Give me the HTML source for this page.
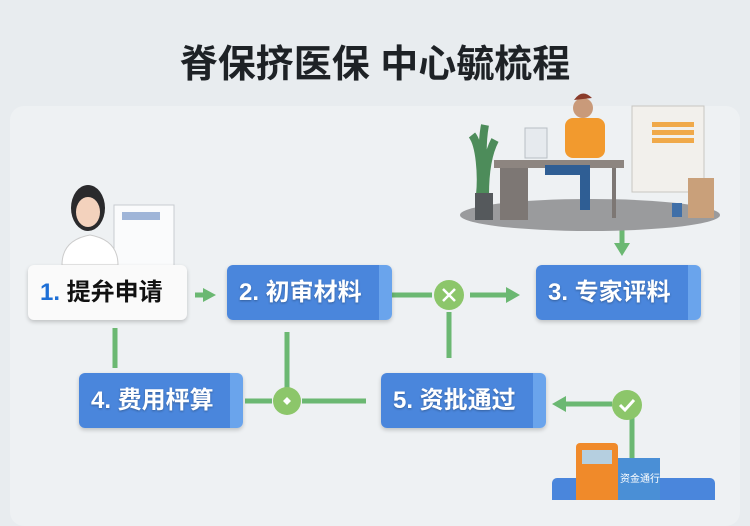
<!DOCTYPE html>
<html><head><meta charset="utf-8"><style>
body{margin:0;width:750px;height:500px;overflow:hidden;background:#e8ecef;font-family:"Liberation Sans","Noto Sans CJK SC",sans-serif;position:relative}
.panel{position:absolute;left:10px;top:106px;width:730px;height:420px;background:#eef1f3;border-radius:14px}
h1{position:absolute;left:0;width:750px;top:33px;margin:0;text-align:center;font-size:38px;font-weight:bold;color:#1e2226;letter-spacing:0px}
.b{position:absolute;height:55px;border-radius:6px;background:linear-gradient(90deg,#4a86dc 92%,#6aa4ec 92%);color:#fff;font-size:24px;font-weight:bold;line-height:55px;box-sizing:border-box;padding-left:12px;box-shadow:0 2px 4px rgba(0,0,0,.2);text-shadow:0 1px 2px rgba(0,0,0,.3)}
svg{position:absolute;left:0;top:0}
</style></head><body>
<div class="panel"></div>
<h1>脊保挤医保 中心毓梳程</h1>
<svg width="750" height="500">
<g stroke="#6bb872" stroke-width="5" fill="none">
<line x1="115" y1="328" x2="115" y2="368"/>
<line x1="287" y1="332" x2="287" y2="388"/>
<line x1="245" y1="401" x2="272" y2="401"/>
<line x1="302" y1="401" x2="366" y2="401"/>
<line x1="392" y1="295" x2="432" y2="295"/>
<line x1="470" y1="295" x2="508" y2="295"/>
<line x1="449" y1="312" x2="449" y2="358"/>
<line x1="565" y1="404" x2="612" y2="404"/>
<line x1="632" y1="418" x2="632" y2="475"/>
<line x1="622" y1="218" x2="622" y2="245"/>
<line x1="195" y1="295" x2="205" y2="295"/>
</g>
<g fill="#6bb872">
<polygon points="203,288 216,295 203,302"/>
<polygon points="506,287 520,295 506,303"/>
<polygon points="566,396 552,404 566,412"/>
<polygon points="614,243 630,243 622,256"/>
<circle cx="449" cy="295" r="15" fill="#8cc66a"/>
<circle cx="287" cy="401" r="14" fill="#8cc66a"/>
<circle cx="627" cy="405" r="15" fill="#8cc66a"/>
</g>
<path d="M443 289l12 12M455 289l-12 12" stroke="#fff" stroke-width="2.5"/>
<path d="M287 397l4 4-4 4-4-4z" fill="#fff"/>
<path d="M620 405l5 5 9-10" stroke="#fff" stroke-width="3" fill="none"/>
<ellipse cx="590" cy="215" rx="130" ry="16" fill="#9a9b9d"/>
<rect x="632" y="106" width="72" height="86" fill="#f2f0ec" stroke="#c8c6c2"/>
<rect x="652" y="122" width="42" height="5" fill="#f0a94a"/>
<rect x="652" y="130" width="42" height="5" fill="#f0a94a"/>
<rect x="652" y="138" width="42" height="5" fill="#f0a94a"/>
<rect x="494" y="160" width="130" height="8" fill="#8d8580"/>
<rect x="500" y="168" width="28" height="52" fill="#7d7774"/>
<rect x="612" y="168" width="4" height="50" fill="#7d7774"/>
<path d="M472 135c8 10 10 40 8 60M485 125c-4 20-2 45 0 70M495 140c-8 15-10 35-10 55" stroke="#4d8c5a" stroke-width="8" fill="none"/>
<rect x="475" y="193" width="18" height="27" fill="#55595c"/>
<rect x="525" y="128" width="22" height="30" fill="#e6eaee" stroke="#b8bec4"/>
<circle cx="583" cy="108" r="10" fill="#c99a7a"/>
<path d="M574 100q8-12 18-2" fill="#8a3b2a"/>
<rect x="565" y="118" width="40" height="40" rx="8" fill="#f29a2e"/>
<path d="M545 165h45v45h-10v-35h-35z" fill="#2f5e94"/>
<rect x="688" y="178" width="26" height="40" fill="#c9a07a"/>
<rect x="672" y="203" width="10" height="14" fill="#3f6fa8"/>
<rect x="114" y="205" width="60" height="62" fill="#fafbfc" stroke="#c8ccd0"/>
<rect x="122" y="212" width="38" height="8" fill="#9fb5d8"/>
<path d="M62 265q0-25 28-30q28 5 28 30z" fill="#fff" stroke="#ccc"/>
<ellipse cx="88" cy="208" rx="17" ry="23" fill="#2a2a2c"/>
<ellipse cx="88" cy="212" rx="12" ry="15" fill="#f3d2bd"/>
<rect x="552" y="478" width="163" height="30" rx="5" fill="#4a86dc"/>
<rect x="616" y="458" width="44" height="42" fill="#4a8fd6"/>
<text x="620" y="482" font-size="10" fill="#fff">资金通行</text>
<rect x="576" y="443" width="42" height="60" rx="4" fill="#f08a2a"/>
<rect x="582" y="450" width="30" height="14" fill="#b5cfe0"/>
</svg>
<div class="b" style="left:28px;top:265px;width:159px;background:#fafafa;color:#111;text-shadow:none"><span style="color:#1d6fd6">1.</span> 提弁申请</div>
<div class="b" style="left:227px;top:265px;width:165px">2. 初审材料</div>
<div class="b" style="left:536px;top:265px;width:165px">3. 专家评料</div>
<div class="b" style="left:79px;top:373px;width:164px">4. 费用枰算</div>
<div class="b" style="left:381px;top:373px;width:165px">5. 资批通过</div>
</body></html>
